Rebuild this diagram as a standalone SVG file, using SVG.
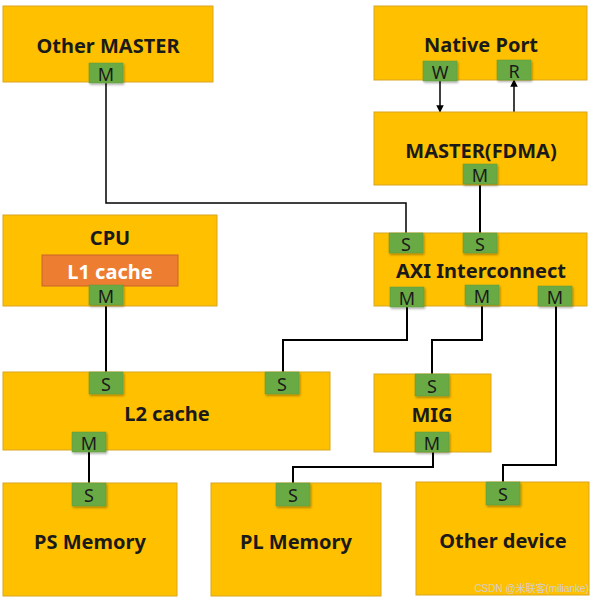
<svg xmlns="http://www.w3.org/2000/svg" width="592" height="603" viewBox="0 0 592 603">
<defs>
<style>
.box{fill:#FFC000;stroke:#D9A520;stroke-width:1}
.lbl{font-family:"Noto Sans","Liberation Sans",sans-serif;font-weight:bold;font-size:20px;fill:#1a1a1a;text-anchor:middle;dominant-baseline:central}
.tab{fill:#6AAA45;stroke:#5E9B3C;stroke-width:0.5;filter:url(#sh)}
.tt{font-family:"Noto Sans","Liberation Sans",sans-serif;font-size:18px;fill:#1a1a1a;text-anchor:middle;dominant-baseline:central}
.ln{fill:none;stroke:#000;stroke-width:2}
.thin{fill:none;stroke:#000;stroke-width:1.5}
</style>
<filter id="sh" x="-20%" y="-20%" width="150%" height="160%">
<feDropShadow dx="1" dy="1.5" stdDeviation="1.2" flood-color="#000" flood-opacity="0.35"/>
</filter>
<marker id="ah" viewBox="0 0 10 10" refX="9" refY="5" markerWidth="5" markerHeight="5" orient="auto">
<path d="M0,0 L10,5 L0,10 z" fill="#000"/>
</marker>
</defs>
<rect width="592" height="603" fill="#fff"/>

<g id="connectors">
<polyline class="thin" points="106,83 106,203 406,203 406,234"/>
<line class="ln" x1="480" y1="184" x2="480" y2="234"/>
<line class="ln" x1="106" y1="305" x2="106" y2="373"/>
<polyline class="ln" points="407,307 407,340 283,340 283,373"/>
<polyline class="ln" points="482,305 482,340 432,340 432,375"/>
<polyline class="ln" points="556,306 556,465 503,465 503,483"/>
<polyline class="ln" points="433,452 433,467 293,467 293,484"/>
<line class="ln" x1="89" y1="452" x2="89" y2="484"/>
<line class="thin" x1="440" y1="81" x2="440" y2="112" marker-end="url(#ah)"/>
<line class="thin" x1="514" y1="112" x2="514" y2="80" marker-end="url(#ah)"/>
</g>

<g id="other-master">
<rect class="box" x="3" y="6" width="210" height="76"/>
<text class="lbl" x="108" y="45">Other MASTER</text>
<rect class="tab" x="89" y="63" width="34" height="20"/>
<text class="tt" x="106" y="74">M</text>
</g>

<g id="native-port">
<rect class="box" x="374" y="6" width="213" height="74"/>
<text class="lbl" x="481" y="44">Native Port</text>
<rect class="tab" x="423" y="61" width="34" height="20"/>
<text class="tt" x="440" y="72">W</text>
<rect class="tab" x="497" y="60" width="34" height="20"/>
<text class="tt" x="514" y="71">R</text>
</g>

<g id="master-fdma">
<rect class="box" x="374" y="112" width="213" height="73"/>
<text class="lbl" x="481" y="150">MASTER(FDMA)</text>
<rect class="tab" x="463" y="164" width="34" height="20"/>
<text class="tt" x="480" y="175">M</text>
</g>

<g id="cpu">
<rect class="box" x="3" y="215" width="214" height="91"/>
<text class="lbl" x="110" y="237">CPU</text>
<rect x="42" y="255" width="136" height="31" fill="#ED7D31" stroke="#C8652A" stroke-width="1"/>
<text class="lbl" x="110" y="271" style="fill:#fff">L1 cache</text>
<rect class="tab" x="89" y="285" width="34" height="20"/>
<text class="tt" x="106" y="296">M</text>
</g>

<g id="axi-interconnect">
<rect class="box" x="374" y="233" width="213" height="73"/>
<text class="lbl" x="481" y="270">AXI Interconnect</text>
<rect class="tab" x="389" y="233" width="34" height="20"/>
<text class="tt" x="406" y="244">S</text>
<rect class="tab" x="463" y="233" width="34" height="20"/>
<text class="tt" x="480" y="244">S</text>
<rect class="tab" x="390" y="287" width="34" height="20"/>
<text class="tt" x="407" y="298">M</text>
<rect class="tab" x="465" y="285" width="34" height="20"/>
<text class="tt" x="482" y="296">M</text>
<rect class="tab" x="538" y="286" width="34" height="20"/>
<text class="tt" x="555" y="297">M</text>
</g>

<g id="l2-cache">
<rect class="box" x="3" y="372" width="327" height="78"/>
<text class="lbl" x="167" y="413">L2 cache</text>
<rect class="tab" x="89" y="372" width="34" height="22"/>
<text class="tt" x="106" y="384">S</text>
<rect class="tab" x="265" y="372" width="34" height="22"/>
<text class="tt" x="282" y="384">S</text>
<rect class="tab" x="72" y="432" width="34" height="20"/>
<text class="tt" x="89" y="443">M</text>
</g>

<g id="mig">
<rect class="box" x="374" y="374" width="117" height="78"/>
<text class="lbl" x="432" y="414">MIG</text>
<rect class="tab" x="415" y="374" width="34" height="22"/>
<text class="tt" x="432" y="386">S</text>
<rect class="tab" x="415" y="432" width="34" height="20"/>
<text class="tt" x="432" y="443">M</text>
</g>

<g id="ps-memory">
<rect class="box" x="3" y="483" width="174" height="113"/>
<text class="lbl" x="90" y="541">PS Memory</text>
<rect class="tab" x="72" y="483" width="34" height="23"/>
<text class="tt" x="89" y="495">S</text>
</g>

<g id="pl-memory">
<rect class="box" x="211" y="483" width="170" height="113"/>
<text class="lbl" x="296" y="541">PL Memory</text>
<rect class="tab" x="276" y="483" width="34" height="23"/>
<text class="tt" x="293" y="495">S</text>
</g>

<g id="other-device">
<rect class="box" x="416" y="482" width="173" height="113"/>
<text class="lbl" x="503" y="540">Other device</text>
<rect class="tab" x="486" y="482" width="34" height="23"/>
<text class="tt" x="503" y="494">S</text>
</g>

<text x="589" y="592" font-family="'Liberation Sans','Noto Sans CJK SC',sans-serif" font-size="10" fill="#cfcfcf" text-anchor="end">CSDN @米联客(milianke)</text>
</svg>
